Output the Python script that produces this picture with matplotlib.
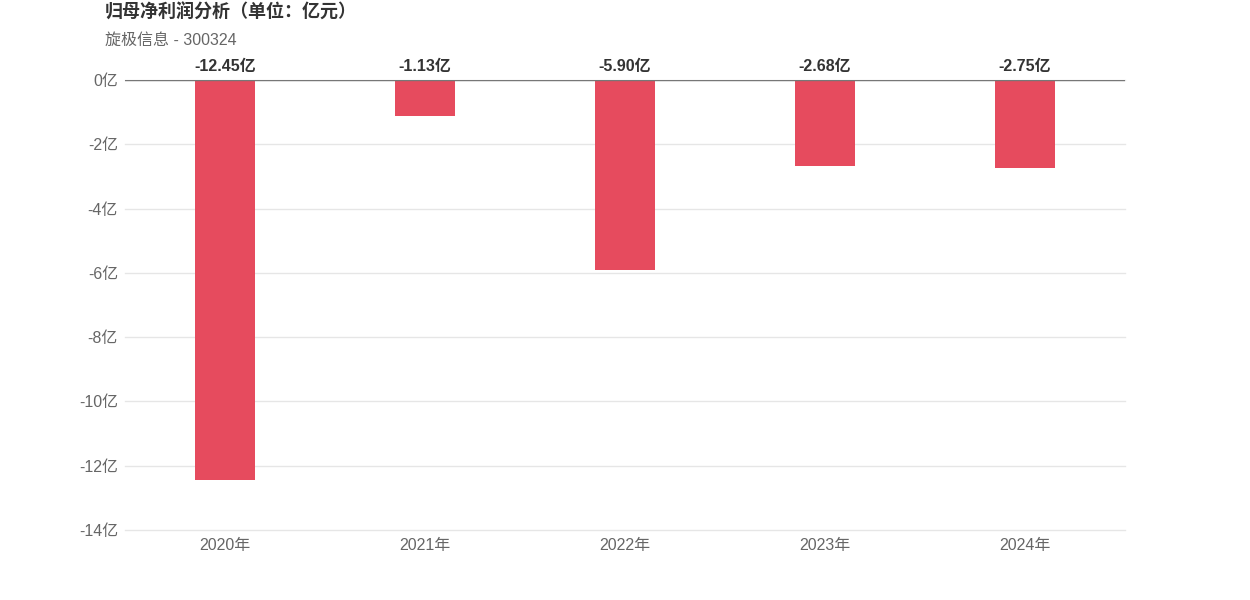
import matplotlib
matplotlib.use("Agg")
import matplotlib.pyplot as plt

plt.rcParams['font.family'] = ['Liberation Sans', 'Noto Sans CJK SC', 'DejaVu Sans']

years = ['2020年', '2021年', '2022年', '2023年', '2024年']
profit = [-12.45, -1.13, -5.90, -2.68, -2.75]
profit_labels = ['-12.45亿', '-1.13亿', '-5.90亿', '-2.68亿', '-2.75亿']
yticks = [0, -2, -4, -6, -8, -10, -12, -14]
ytick_labels = ['0亿', '-2亿', '-4亿', '-6亿', '-8亿', '-10亿', '-12亿', '-14亿']

fig = plt.figure(figsize=(12.5, 6), dpi=100)
ax = fig.add_axes([0.1, 1 - 530 / 600, 0.8, 450 / 600])

x = range(len(years))
ax.bar(x, profit, width=0.3, color='#E64B5E', zorder=3)

for i, lab in enumerate(profit_labels):
    ax.text(i, 0.2, lab, ha='center', va='bottom', fontsize=11.5,
            fontweight='bold', color='#333333')

ax.set_xlim(-0.5, len(years) - 0.5)
ax.set_ylim(-14, 0)
ax.set_yticks(yticks)
ax.set_yticklabels(ytick_labels)
ax.set_xticks(list(x))
ax.set_xticklabels(years)
ax.tick_params(axis='both', length=0, labelsize=11.5, labelcolor='#666666')
ax.tick_params(axis='y', pad=5)
ax.tick_params(axis='x', pad=6)
ax.grid(axis='y', color='#e6e6e6', linewidth=1, zorder=0)
for gl in ax.get_ygridlines():
    gl.set_clip_on(False)
ax.axhline(0, color='#777777', linewidth=1, zorder=4)
for s in ax.spines.values():
    s.set_visible(False)

fig.text(105 / 1250, 1 - 13 / 600, '归母净利润分析（单位：亿元）', fontsize=13,
         fontweight='bold', color='#333333', va='center')
fig.text(105 / 1250, 1 - 40 / 600, '旋极信息 - 300324', fontsize=11.5,
         color='#666666', va='center')

fig.savefig('out.png', dpi=100)
